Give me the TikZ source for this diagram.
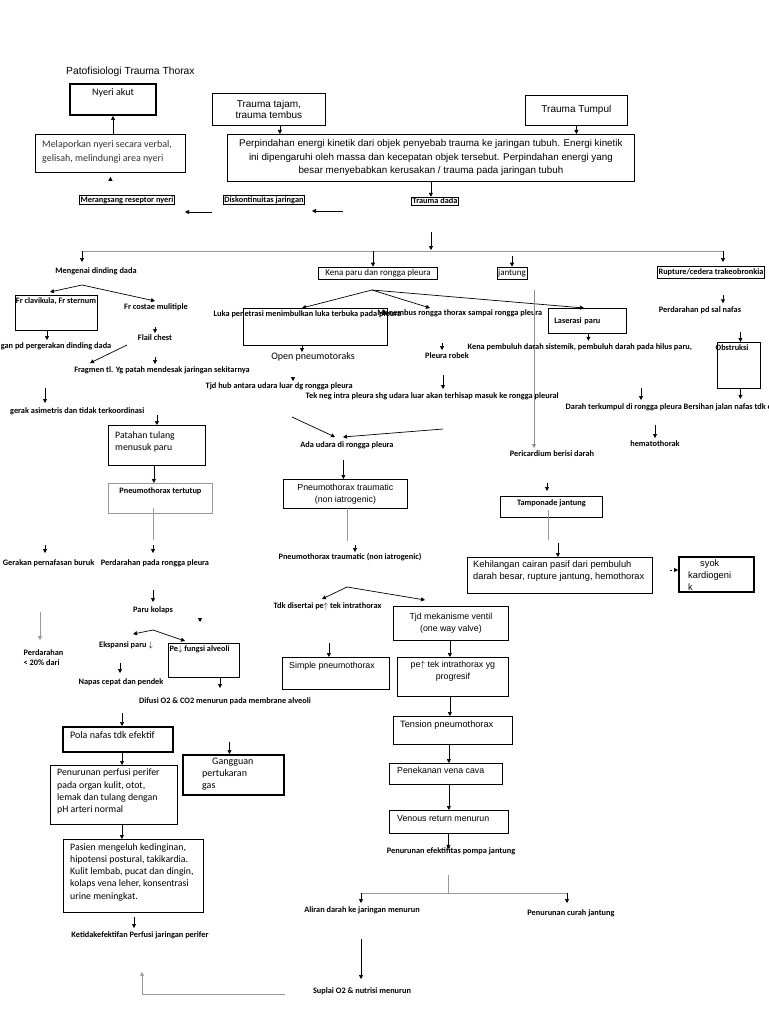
\documentclass[tikz,border=0pt]{standalone}
\usepackage{fontspec}
\setmainfont{Carlito}
\newfontfamily\arialf{Liberation Sans}
\usetikzlibrary{arrows.meta}

\begin{document}
\begin{tikzpicture}[x=1pt,y=-1pt,
    box/.style={draw, line width=0.8pt, inner sep=0pt},
    thickbox/.style={draw, line width=2pt, inner sep=0pt},
    graybox/.style={draw=black!40, line width=0.8pt, inner sep=0pt},
    sz/.style 2 args={minimum width=#1, minimum height=#2, anchor=north west},
    lbl/.style={font=\fontsize{8.3}{9}\selectfont\bfseries, inner sep=0.5pt},
    lblbox/.style={lbl, draw, line width=0.6pt, inner sep=1pt},
    txt/.style={font=\fontsize{9.8}{12.3}\selectfont, align=left, inner sep=0pt},
    atxt/.style={font=\arialf\fontsize{8.8}{12}\selectfont, align=center, inner sep=0pt},
    arr/.style={-{Triangle[length=4pt,width=4pt]}, line width=0.7pt},
    grayline/.style={draw=black!40, line width=0.9pt}
  ]
  \useasboundingbox (0,0) rectangle (768,1024);
  \fill[white] (0,0) rectangle (768,1024);

  % kepala
  \node[font=\arialf\fontsize{10.3}{12}\selectfont, anchor=west, inner sep=0pt] (judul) at (66,72) {Patofisiologi Trauma Thorax};
  \node[thickbox, sz={86}{31}, label={[txt, font=\fontsize{10}{12}\selectfont, anchor=north, yshift=-5pt]north:Nyeri akut}] (nyeri) at (69,83) {};
  \node[box, sz={150}{38}, label={[txt, font=\fontsize{10}{14}\selectfont, text=black!80, anchor=north west, xshift=7pt, yshift=-6pt]north west:Melaporkan nyeri secara verbal,\\gelisah, melindungi area nyeri}] (lapor) at (35,134) {};
  \draw[arr] (lapor.north -| nyeri.south) -- (nyeri.south);
  \draw[arr] ([yshift=-7pt]lapor.south) -- ++(0,-3);

  \node[lblbox] (rangsang) at (127,200) {Merangsang reseptor nyeri};
  \node[lblbox] (diskon) at (264,200) {Diskontinuitas jaringan};
  \node[lblbox] (dada) at (435,201) {Trauma dada};
  \draw[arr] (212,212) -- (185,212);
  \draw[arr] (343,211) -- (312,211);

  \node[box, sz={113}{32}, atxt, font=\arialf\fontsize{10}{11.5}\selectfont] (tajam) at (212,93) {Trauma tajam,\\trauma tembus};
  \node[box, sz={102}{30}, atxt, font=\arialf\fontsize{10}{12}\selectfont] (tumpul) at (525,95) {Trauma Tumpul};
  \node[box, sz={407}{47}, atxt, font=\arialf\fontsize{9.8}{13.5}\selectfont] (energi) at (227,134) {Perpindahan energi kinetik dari objek penyebab trauma ke jaringan tubuh. Energi kinetik\\ini dipengaruhi oleh massa dan kecepatan objek tersebut. Perpindahan energi yang\\besar menyebabkan kerusakan / trauma pada jaringan tubuh};
  \draw[arr] ([xshift=11pt]tajam.south) -- ([xshift=11pt]tajam.south |- energi.north);
  \draw[arr] (tumpul.south) -- (tumpul.south |- energi.north);
  \draw[arr] (energi.south) -- (energi.south |- dada.north);

  % percabangan trauma dada
  \draw[arr] (431,232) -- (431,250);
  \coordinate (cabangL) at (82,251);
  \coordinate (cabangR) at (723,251);
  \draw[grayline] (cabangL) -- (cabangR);
  \node[lbl] (mengenai) at (96,271) {Mengenai dinding dada};
  \node[draw, line width=0.6pt, font=\fontsize{9}{10}\selectfont, inner sep=1pt, minimum width=119, minimum height=12] (kena) at (378,273) {Kena paru dan rongga pleura};
  \node[draw, line width=0.6pt, font=\fontsize{9}{10}\selectfont, inner sep=1pt, minimum height=12] (jantung) at (512,273) {jantung};
  \node[lblbox, minimum height=12] (rupture) at (711,272) {Rupture/cedera trakeobronkia};
  \draw[arr] (cabangL) -- ++(0,11);
  \draw[arr] ([xshift=-5pt]kena.north |- cabangL) -- ([xshift=-5pt]kena.north);
  \draw[arr] ([yshift=11pt]jantung.north) -- (jantung.north);
  \draw[arr] (cabangR) -- ++(0,11);

  % dinding dada
  \draw[arr] (82,285) -- (50,292);
  \draw[arr] (82,285) -- (155,301);
  \node[box, sz={82}{35}] (frbox) at (15,295) {};
  \node[lbl] (frcla) at (56,301) {Fr clavikula, Fr sternum};
  \node[lbl] (frcos) at (156,307) {Fr costae mulitiple};
  \node[lbl, anchor=east] (hambat) at (112,346) {gan pd pergerakan dinding dada};
  \node[lbl] (flail) at (155,338) {Flail chest};
  \draw[arr] (127,345) -- (90,363);
  \node[lbl] (fragmen) at (162,370) {Fragmen tl. Yg patah mendesak jaringan sekitarnya};
  \node[lbl, anchor=east] (asimetris) at (145,411) {gerak asimetris dan tidak terkoordinasi};
  \node[box, sz={97}{40}, label={[txt, anchor=north west, xshift=7pt, yshift=-6pt]north west:Patahan tulang\\menusuk paru}] (patahan) at (108,425) {};
  \node[graybox, sz={104}{30}, label={[lbl, anchor=north, yshift=-4pt]north:Pneumothorax tertutup}] (tertutup) at (108,483) {};
  \draw[arr] ([xshift=-3pt]patahan.south) -- ([xshift=-3pt]patahan.south |- tertutup.north);
  \draw[arr] (patahan.north) ++(0,-10) -- (patahan.north);
  \draw[grayline] (153,508) -- (153,540);
  \node[lbl] (perdpleura) at (155,563) {Perdarahan pada rongga pleura};
  \node[lbl, anchor=east] (gerakan) at (95,563) {Gerakan pernafasan buruk};
  \node[lbl] (kolaps) at (153,610) {Paru kolaps};
  \draw[grayline, arr, draw=black!40] (40,612) -- (40,640);
  \node[lbl, anchor=west, align=left, font=\fontsize{8.3}{10}\selectfont\bfseries] (perd20) at (23,658) {Perdarahan\\< 20\% dari};
  \draw[arr] (153,630) -- (133,634);
  \draw[arr] (153,630) -- (185,641);
  \node[lbl] (ekspansi) at (126,645) {Ekspansi paru $\downarrow$};
  \node[box, sz={71}{34}, label={[lbl, anchor=north west, xshift=1pt, yshift=-2pt]north west:Pe$\downarrow$ fungsi alveoli}] (fungsi) at (168,643) {};
  \node[lbl] (napas) at (121,682) {Napas cepat dan pendek};
  \node[lbl] (difusi) at (225,701) {Difusi O2 \& CO2 menurun pada membrane alveoli};
  \node[thickbox, sz={110}{25}, label={[txt, font=\fontsize{10}{12}\selectfont, anchor=north west, xshift=8pt, yshift=-5pt]north west:Pola nafas tdk efektif}] (pola) at (62,726) {};
  \node[thickbox, sz={101}{40}, label={[txt, font=\fontsize{10}{12}\selectfont, anchor=north west, xshift=20pt, yshift=-4pt]north west:\hspace{10pt}Gangguan\\pertukaran\\gas}] (gangguan) at (182,754) {};
  \node[box, sz={127}{59}, label={[txt, anchor=north west, xshift=7pt, yshift=-4pt]north west:Penurunan perfusi perifer\\pada organ kulit, otot,\\lemak dan tulang dengan\\pH arteri normal}] (perfusi) at (50,765) {};
  \node[box, sz={140}{73}, label={[txt, anchor=north west, xshift=7pt, yshift=-4pt]north west:Pasien mengeluh kedinginan,\\hipotensi postural, takikardia.\\Kulit lembab, pucat dan dingin,\\kolaps vena leher, konsentrasi\\urine meningkat.}] (pasien) at (63,839) {};
  \draw[arr] ([xshift=4pt]pola.north) ++(0,-13) -- ([xshift=4pt]pola.north);
  \draw[arr] ([xshift=-4pt]gangguan.north) ++(0,-12) -- ([xshift=-4pt]gangguan.north);
  \draw[arr] ([xshift=4pt]pola.south) -- ([xshift=4pt]pola.south |- perfusi.north);
  \draw[arr] ([xshift=8pt]perfusi.south) -- ([xshift=8pt]perfusi.south |- pasien.north);
  \node[lbl] (ketidak) at (140,935) {Ketidakefektifan Perfusi jaringan perifer};
  \draw[grayline, arr, draw=black!40] (285,994) -- (142,994) -- (142,972);

  % paru dan pleura
  \draw[arr] (372,290) -- (302,308);
  \draw[arr] (372,290) -- (430,308);
  \draw[arr] (372,290) -- (584,308);
  \node[box, sz={144}{37}] (lukabox) at (243,308) {};
  \node[lbl, anchor=west] (luka) at (213,314) {Luka penetrasi menimbulkan luka terbuka pada pleura};
  \node[lbl, anchor=east] (menembus) at (543,313) {Menembus rongga thorax sampai rongga pleura};
  \node[font=\fontsize{10}{11}\selectfont, inner sep=0.5pt] (open) at (313,357) {Open pneumotoraks};
  \node[lbl] (robek) at (447,356) {Pleura robek};
  \node[lbl, anchor=west] (tjdhub) at (205,386) {Tjd hub antara udara luar dg rongga pleura};
  \node[lbl, anchor=west] (tekneg) at (305,396) {Tek neg intra pleura shg udara luar akan terhisap masuk ke rongga pleural};
  \draw[arr] (292,417) -- (335,437);
  \draw[arr] (443,429) -- (343,437);
  \node[lbl] (ada) at (347,445) {Ada udara di rongga pleura};
  \node[box, sz={124}{29}, atxt] (traum) at (283,479) {Pneumothorax traumatic\\(non iatrogenic)};
  \draw[arr] ([xshift=-2pt]traum.north) ++(0,-19) -- ([xshift=-2pt]traum.north);
  \draw[grayline] (347,508) -- (347,541);
  \node[lbl] (pneutext) at (350,557) {Pneumothorax traumatic (non iatrogenic)};
  \draw[arr] (347,587) -- (322,599);
  \draw[arr] (347,587) -- (425,600);
  \node[lbl, anchor=west] (tdk) at (273,606) {Tdk disertai pe$\uparrow$ tek intrathorax};
  \node[box, sz={115}{34}, atxt] (ventil) at (393,606) {Tjd mekanisme ventil\\(one way valve)};
  \node[box, sz={107}{32}, label={[atxt, anchor=north west, xshift=7pt, yshift=-5pt]north west:Simple pneumothorax}] (simple) at (282,657) {};
  \node[box, sz={111}{39}, label={[atxt, anchor=north, yshift=-4pt]north:pe$\uparrow$ tek intrathorax yg\\progresif}] (progresif) at (397,657) {};
  \node[box, sz={119}{28}, label={[atxt, font=\arialf\fontsize{9.2}{12}\selectfont, anchor=north west, xshift=7pt, yshift=-5pt]north west:Tension pneumothorax}] (tension) at (393,716) {};
  \node[box, sz={113}{21}, label={[atxt, anchor=north west, xshift=8pt, yshift=-4pt]north west:Penekanan vena cava}] (cava) at (389,763) {};
  \node[box, sz={119}{23}, label={[atxt, anchor=north west, xshift=8pt, yshift=-5pt]north west:Venous return menurun}] (venous) at (389,810) {};
  \draw[arr] ([xshift=-7pt]simple.north) ++(0,-14) -- ([xshift=-7pt]simple.north);
  \draw[arr] ([xshift=-1pt]ventil.south) -- ([xshift=-1pt]ventil.south |- progresif.north);
  \draw[arr] ([xshift=-3pt]progresif.south) -- ([xshift=-3pt]progresif.south |- tension.north);
  \draw[arr] ([xshift=-4pt]tension.south) -- ([xshift=-4pt]tension.south |- cava.north);
  \draw[arr] ([xshift=3pt]cava.south) -- ([xshift=3pt]cava.south |- venous.north);
  \draw[arr] ([xshift=-0.5pt]venous.south) -- ++(0,15);
  \node[lbl] (efektif) at (451,851) {Penurunan efektifitas pompa jantung};
  \coordinate (cabangB) at (448,893);
  \draw[grayline] (448,875) -- (cabangB);
  \draw[grayline] (361,893) -- (567,893);
  \draw[arr] (361,893) -- (361,903);
  \draw[arr] (567,893) -- (567,903);
  \node[lbl] (aliran) at (362,910) {Aliran darah ke jaringan menurun};
  \node[lbl] (curah) at (571,913) {Penurunan curah jantung};
  \draw[arr] (361,939) -- (361,979);
  \node[lbl] (suplai) at (362,991) {Suplai O2 \& nutrisi menurun};

  % jantung
  \draw[grayline, arr, draw=black!45] (534,290) -- (534,448);
  \node[lbl] (pericard) at (552,454) {Pericardium berisi darah};
  \draw[arr] (547,483) -- (547,491);
  \node[box, sz={102}{21}, label={[lbl, anchor=north, yshift=-3pt]north:Tamponade jantung}] (tampon) at (500,496) {};
  \draw[grayline] (548,510) -- (548,540);
  \node[box, sz={185}{36}, label={[atxt, font=\arialf\fontsize{9.3}{12}\selectfont, anchor=north west, xshift=6pt, yshift=-4pt, align=left]north west:Kehilangan cairan pasif dari pembuluh\\darah besar, rupture jantung, hemothorax}] (kehil) at (467,557) {};
  \draw[arr] ([xshift=-2pt]kehil.north) ++(0,-14) -- ([xshift=-2pt]kehil.north);
  \node[thickbox, sz={75}{35}, label={[atxt, font=\arialf\fontsize{9.3}{12}\selectfont, anchor=north west, xshift=10pt, yshift=-4pt, align=left]north west:\hspace{12pt}syok\\kardiogeni\\k}] (syok) at (678,556) {};
  \draw[arr, dash pattern=on 2pt off 3pt] (670,570) -- (syok.west |- 0,570);

  % laserasi dan trakeobronkia
  \node[box, sz={78}{25}, lbl, text width=66, align=left] (laser) at (548,308) {Laserasi paru};
  \draw[arr] ([xshift=1pt]laser.south) -- ++(0,7);
  \node[lbl, anchor=west] (kenapemb) at (467,347) {Kena pembuluh darah sistemik, pembuluh darah pada hilus paru,};
  \draw[arr] ([xshift=12pt]rupture.south) ++(0,17) -- ++(0,8);
  \node[lbl] (perdsal) at (700,310) {Perdarahan pd sal nafas};
  \node[box, sz={43}{46}] (obstr) at (717,342) {};
  \node[lbl, anchor=west] (obstrT) at (715,348) {Obstruksi};
  \draw[arr] ([xshift=1.5pt]obstr.north) ++(0,-10) -- ([xshift=1.5pt]obstr.north);
  \draw[arr] ([xshift=1.5pt]obstr.south) -- ++(0,10);
  \draw[arr] (641,388) -- (641,400);
  \node[lbl, anchor=west] (darahterk) at (565,407) {Darah terkumpul di rongga pleura};
  \node[lbl, anchor=west] (bersihan) at (683,407) {Bersihan jalan nafas tdk efektif};
  \draw[arr] (655,425) -- (655,438);
  \node[lbl] (hemato) at (655,444) {hematothorak};

  % panah lepas
  \foreach \x/\ya/\yb in {47/330/340, 155/327/333, 155/357/364, 45/388/403, 153/545/553, 45/545/553, 153/590/602, 200/618/622, 120/663/673, 220/677/688, 134/917/928, 302/345/352, 442/343/350, 293/377/381, 443/375/389, 355/545/552}
    \draw[arr] (\x,\ya) -- (\x,\yb);
\end{tikzpicture}
\end{document}
